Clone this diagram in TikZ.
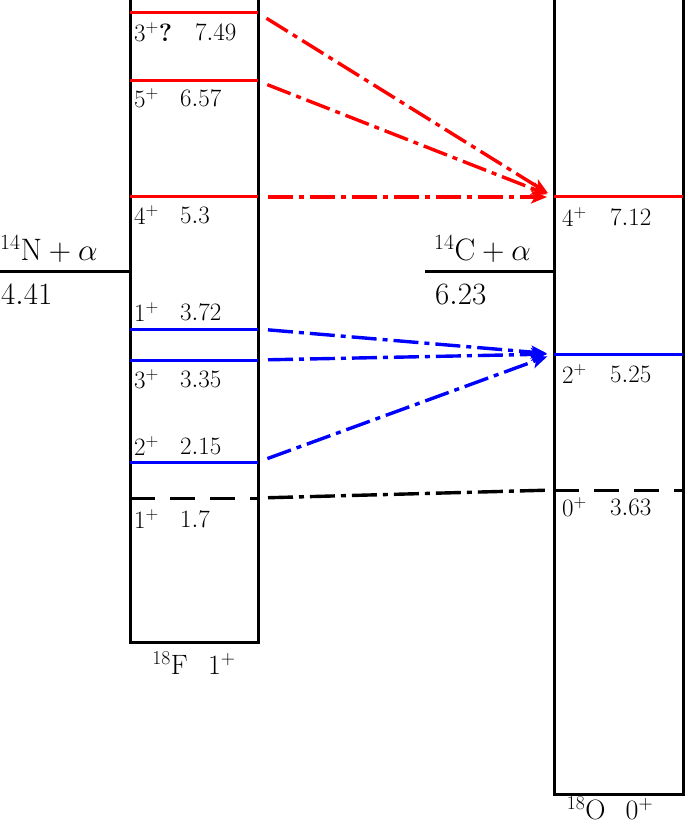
\RequirePackage{fix-cm}
\documentclass[tikz,border=0pt]{standalone}
\usepackage{fontspec}
\usetikzlibrary{arrows.meta}
\definecolor{lvred}{RGB}{255,0,0}
\definecolor{lvblue}{RGB}{0,0,255}
\tikzset{
  boxline/.style={line width=3pt},
  lvl/.style={line width=3pt},
  dlvl/.style={line width=3pt, dash pattern=on 25pt off 15pt},
  dashdot/.style={line width=3.4pt, dash pattern=on 25pt off 6pt on 5pt off 6pt},
  arr/.style={dashdot, -{Stealth[length=16pt,width=13pt,inset=4pt]}},
  lab/.style={anchor=west, inner sep=0pt, font=\fontsize{25}{30}\selectfont},
  thr/.style={anchor=west, inner sep=0pt, font=\fontsize{31}{36}\selectfont},
  bot/.style={anchor=center, inner sep=0pt, font=\fontsize{28}{34}\selectfont},
}
\begin{document}
\begin{tikzpicture}[x=1pt,y=-1pt]
\useasboundingbox (0,0) rectangle (685,826);
% boxes
\draw[boxline] (130,0) -- (130,642) -- (258,642) -- (258,0);
\draw[boxline] (554,0) -- (554,794) -- (683,794) -- (683,0);
% thresholds
\draw[boxline] (0,271) -- (130,271);
\draw[boxline] (425,271) -- (554,271);
\node[thr] (tN) at (0,249) {$^{14}\mathrm{N}+\alpha$};
\node[thr] (tNe) at (1,295) {$4.41$};
\node[thr] (tC) at (434,249) {$^{14}\mathrm{C}+\alpha$};
\node[thr] (tCe) at (435,295) {$6.23$};
% F levels
\draw[lvl, lvred] (130,13) -- (258,13) coordinate (f749);
\draw[lvl, lvred] (130,81) -- (258,81) coordinate (f657);
\draw[lvl, lvred] (130,197) -- (258,197) coordinate (f53);
\draw[lvl, lvblue] (130,329) -- (258,329) coordinate (f372);
\draw[lvl, lvblue] (130,360) -- (258,360) coordinate (f335);
\draw[lvl, lvblue] (130,462) -- (258,462) coordinate (f215);
\draw[dlvl] (130,498) -- (258,498) coordinate (f17);
% O levels
\draw[lvl, lvred] (554,197) coordinate (o712) -- (683,197);
\draw[lvl, lvblue] (554,354) coordinate (o525) -- (683,354);
\draw[dlvl] (554,490) coordinate (o363) -- (683,490);
% F labels
\node[lab] (s749) at (134,32) {$3^+$\textbf{?}};
\node[lab] (e749) at (195,32) {$7.49$};
\node[lab] (s657) at (134,98) {$5^+$};
\node[lab] (e657) at (180,98) {$6.57$};
\node[lab] (s53) at (134,215) {$4^+$};
\node[lab] (e53) at (180,215) {$5.3$};
\node[lab] (s372) at (134,312) {$1^+$};
\node[lab] (e372) at (180,312) {$3.72$};
\node[lab] (s335) at (134,379) {$3^+$};
\node[lab] (e335) at (180,379) {$3.35$};
\node[lab] (s215) at (134,446) {$2^+$};
\node[lab] (e215) at (180,446) {$2.15$};
\node[lab] (s17) at (134,519) {$1^+$};
\node[lab] (e17) at (180,519) {$1.7$};
% O labels
\node[lab] (s712) at (562,217) {$4^+$};
\node[lab] (e712) at (610,217) {$7.12$};
\node[lab] (s525) at (562,374) {$2^+$};
\node[lab] (e525) at (610,374) {$5.25$};
\node[lab] (s363) at (562,507) {$0^+$};
\node[lab] (e363) at (610,507) {$3.63$};
% bottom labels
\node[bot] (bF) at (194,663) {$^{18}\mathrm{F}\;\;\, 1^+$};
\node[bot] (bO) at (610,808) {$^{18}\mathrm{O}\;\;\, 0^+$};
% connectors
\draw[arr, lvred, shorten <=10pt, shorten >=7pt] (f749) -- (o712);
\draw[arr, lvred, shorten <=10pt, shorten >=7pt] (f657) -- (o712);
\draw[arr, lvred, shorten <=10pt, shorten >=7pt] (f53) -- (o712);
\draw[arr, lvblue, shorten <=10pt, shorten >=7pt] (f372) -- (o525);
\draw[arr, lvblue, shorten <=10pt, shorten >=7pt] (f335) -- (o525);
\draw[arr, lvblue, shorten <=10pt, shorten >=7pt] (f215) -- (o525);
\draw[dashdot, shorten <=10pt, shorten >=8pt] (f17) -- (o363);
\end{tikzpicture}
\end{document}
